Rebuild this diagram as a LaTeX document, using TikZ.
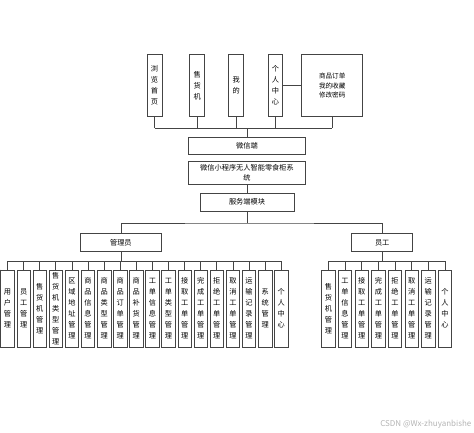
\documentclass[tikz,border=0pt]{standalone}
\usepackage{fontspec}
\newfontfamily\cjk{Noto Sans CJK SC}
\definecolor{linec}{HTML}{444444}
\definecolor{wmark}{HTML}{B4B4B4}
\begin{document}
\begin{tikzpicture}[x=1pt,y=-1pt,
  box/.style={draw=linec, line width=0.7pt, fill=white, inner sep=0pt, align=center,
    font=\cjk\fontsize{7.2}{11}\selectfont},
  conn/.style={draw=linec, line width=0.7pt},
  topbox/.style={box, minimum width=15pt, minimum height=62.5pt},
  kid/.style={box, minimum width=13.5pt, minimum height=77pt}]
\useasboundingbox (0,0) rectangle (474,433);
\fill[white] (0,0) rectangle (474,433);

% top level
\node[topbox] (b1) at (154.5,85.5) {浏\\览\\首\\页};
\node[topbox] (b2) at (197.2,85.5) {售\\货\\机};
\node[topbox] (b3) at (236.2,85.5) {我\\的};
\node[topbox, minimum width=14.4pt] (b4) at (275.5,85.5) {个\\人\\中\\心};
\node[box, minimum width=61pt, minimum height=62.5pt, font=\cjk\fontsize{6.6}{9.5}\selectfont] (b5) at (332.2,85.5) {商品订单\\我的收藏\\修改密码};
\draw[conn] (b4.east) -- (b5.west);
\coordinate (busL) at (154.5,128.5);
\coordinate (busR) at (332.2,128.5);
\draw[conn] (busL) -- (busR);
\foreach \n in {b1,b2,b3,b4,b5} \draw[conn] (\n.south) -- (\n.south |- busL);

% middle chain
\node[box, minimum width=117pt, minimum height=16.5pt] (wx) at (247,145.75) {微信端};
\node[box, minimum width=117pt, minimum height=23pt, font=\cjk\fontsize{7.2}{9.5}\selectfont] (mini) at (247,172.5) {微信小程序无人智能零食柜系\\统};
\node[box, minimum width=94pt, minimum height=18pt] (fw) at (247,202) {服务端模块};
\draw[conn] (wx.north) -- (wx.north |- busL);
\draw[conn] (mini.south) -- (fw.north);

% second level
\node[box, minimum width=80.3pt, minimum height=18.2pt] (adm) at (120.85,242.6) {管理员};
\node[box, minimum width=61pt, minimum height=18.2pt] (emp) at (382.2,242.6) {员工};
\coordinate (hsplit) at (247,223);
\draw[conn] (fw.south) -- (hsplit);
\draw[conn] (adm.north) |- (hsplit) -| (emp.north);

% admin children
\foreach [count=\i] \t in {用\\户\\管\\理, 员\\工\\管\\理, 售\\货\\机\\管\\理, 售\\货\\机\\类\\型\\管\\理,
  区\\域\\地\\址\\管\\理, 商\\品\\信\\息\\管\\理, 商\\品\\类\\型\\管\\理, 商\\品\\订\\单\\管\\理,
  商\\品\\补\\货\\管\\理, 工\\单\\信\\息\\管\\理, 工\\单\\类\\型\\管\\理, 接\\取\\工\\单\\管\\理,
  完\\成\\工\\单\\管\\理, 拒\\绝\\工\\单\\管\\理, 取\\消\\工\\单\\管\\理, 运\\输\\记\\录\\管\\理,
  系\\统\\管\\理, 个\\人\\中\\心} {
  \node[kid] (a\i) at ({7.5+16.1*(\i-1)},308.5) {\t};
}
\coordinate (abus) at (0,261);
\draw[conn] (a1.north |- abus) -- (a18.north |- abus);
\draw[conn] (adm.south) -- (adm.south |- abus);
\foreach \i in {1,...,18} \draw[conn] (a\i.north) -- (a\i.north |- abus);
\draw[linec, line width=1.6pt] (a1.north west) -- (a1.south west);

% employee children
\foreach [count=\i] \t in {售\\货\\机\\管\\理, 工\\单\\信\\息\\管\\理, 接\\取\\工\\单\\管\\理,
  完\\成\\工\\单\\管\\理, 拒\\绝\\工\\单\\管\\理, 取\\消\\工\\单\\管\\理, 运\\输\\记\\录\\管\\理,
  个\\人\\中\\心} {
  \node[kid] (e\i) at ({328.4+16.65*(\i-1)},308.5) {\t};
}
\draw[conn] (e1.north |- abus) -- (e8.north |- abus);
\draw[conn] (emp.south) -- (emp.south |- abus);
\foreach \i in {1,...,8} \draw[conn] (e\i.north) -- (e\i.north |- abus);

% watermark
\node[anchor=east, inner sep=0pt, text=wmark, font=\cjk\fontsize{8}{9}\selectfont] (wm) at (471.5,424) {CSDN @Wx-zhuyanbishe};
\end{tikzpicture}
\end{document}
